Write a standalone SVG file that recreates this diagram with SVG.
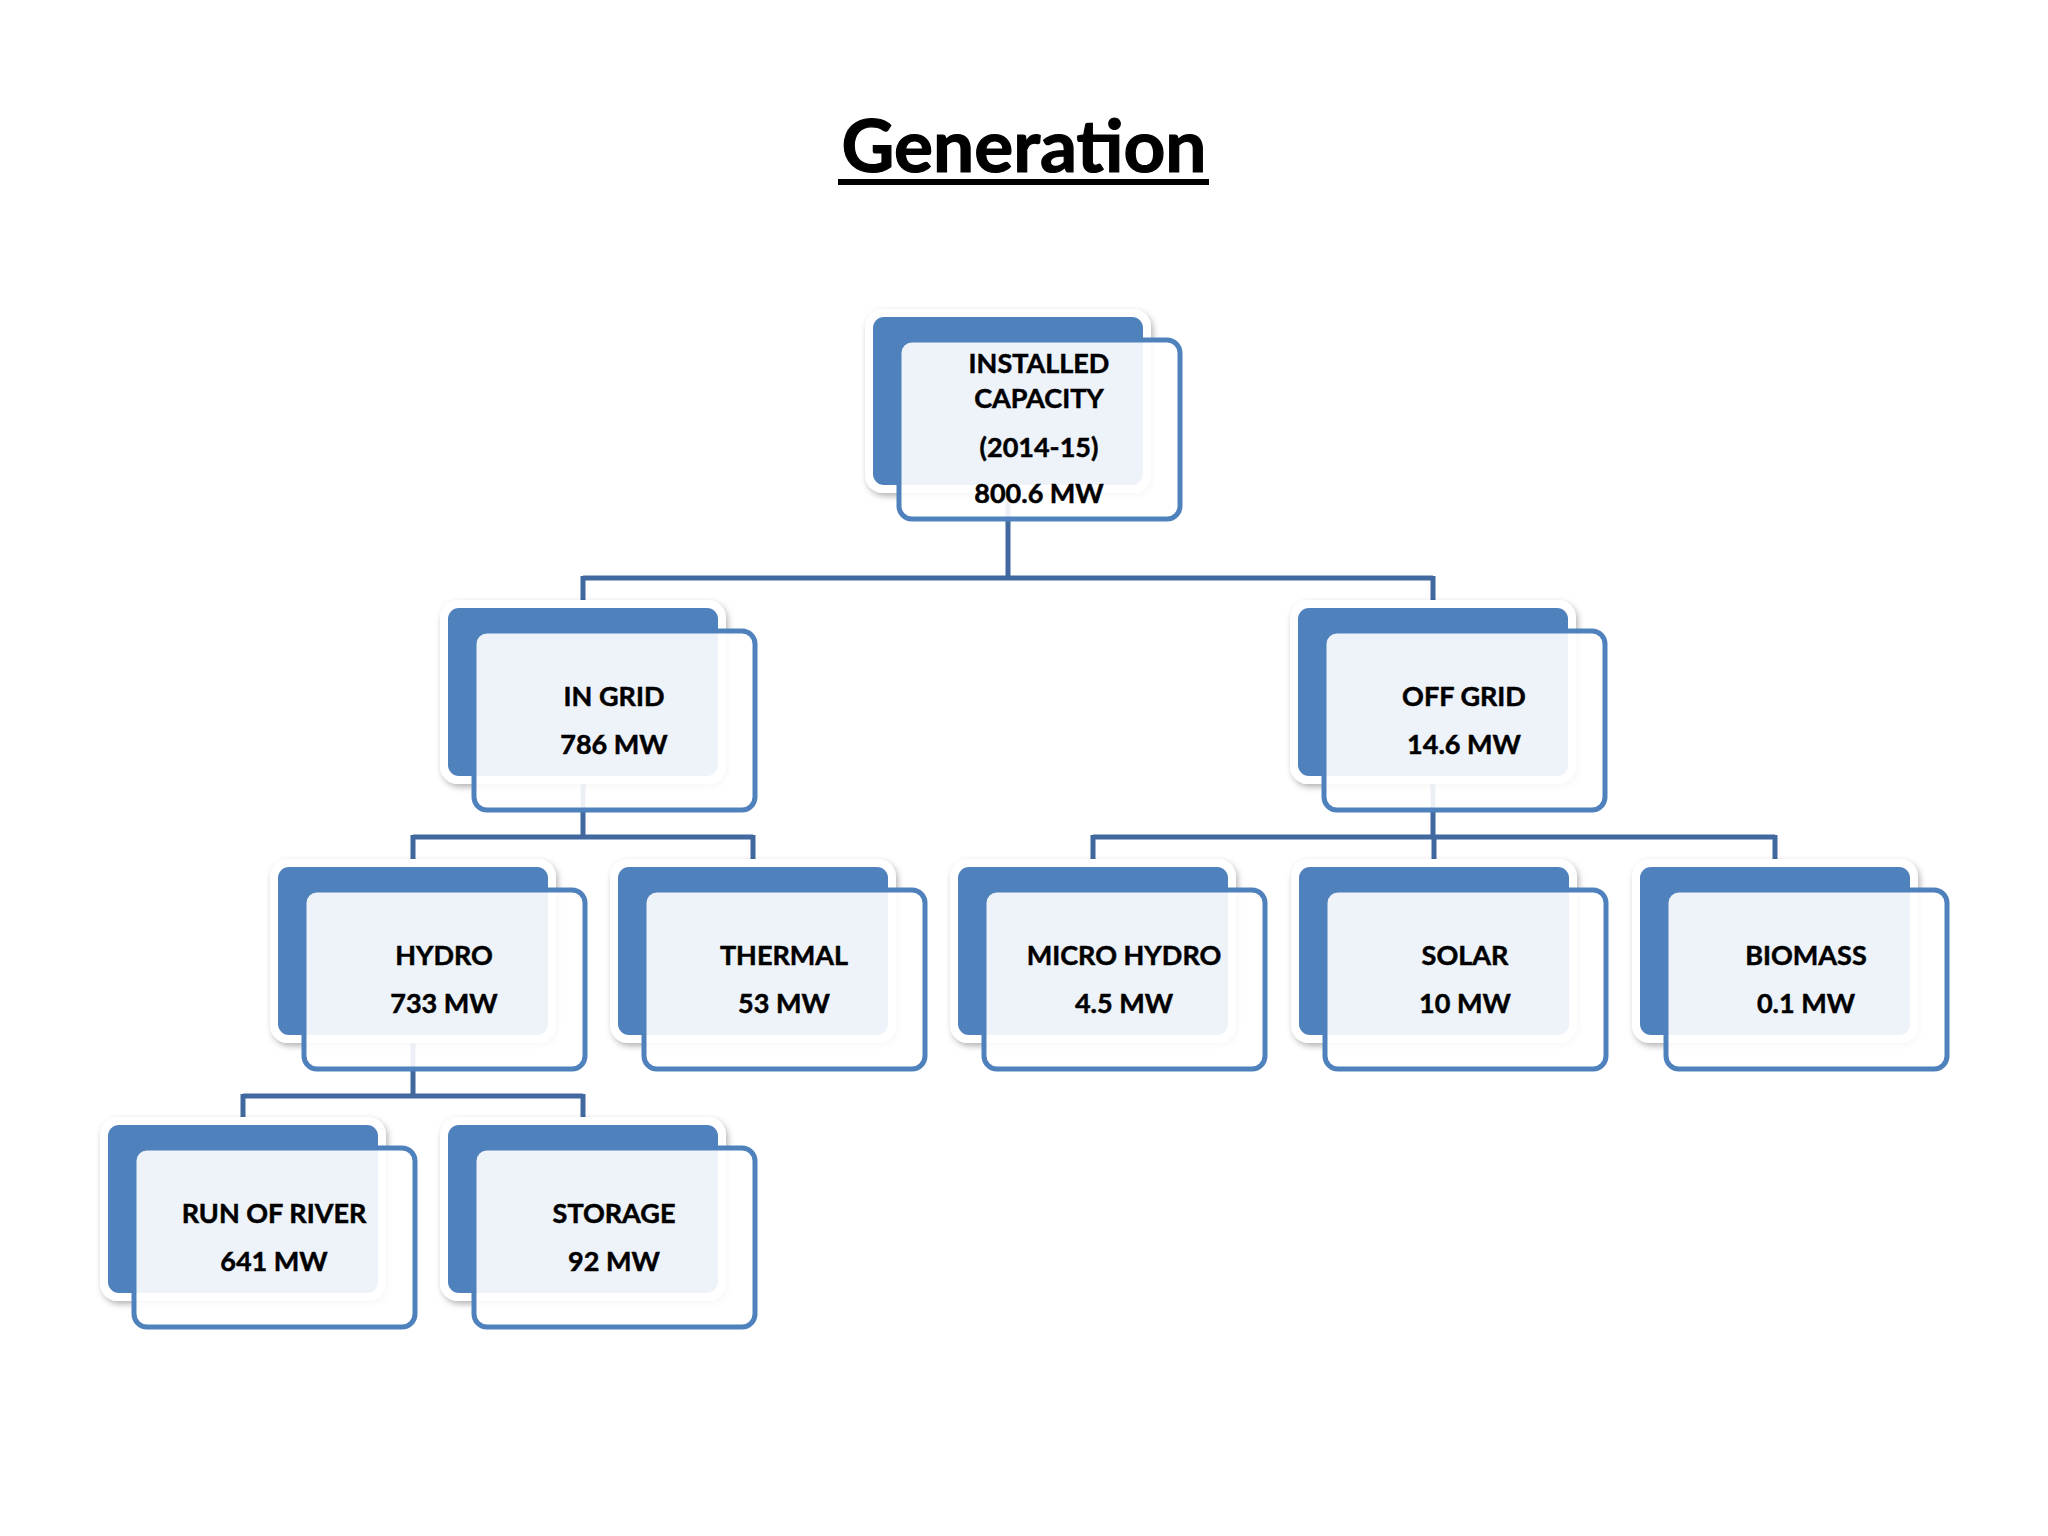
<svg xmlns="http://www.w3.org/2000/svg" width="2048" height="1536" viewBox="0 0 2048 1536">
<style>
.conn{fill:none;stroke:#41699f;stroke-width:5;stroke-linejoin:miter;stroke-linecap:butt}
.halo{fill:#ffffff}
.back{fill:#4f81bd}
.front{fill:#ffffff;fill-opacity:0.9;stroke:#4f81bd;stroke-width:5}
.lbl{font-family:Lato,"Open Sans","Liberation Sans",sans-serif;font-weight:bold;font-size:27px;fill:#000;stroke:#000;stroke-width:0.5;text-anchor:middle}
.title{font-family:Lato,"Open Sans","Liberation Sans",sans-serif;font-weight:bold;font-size:72px;fill:#000;stroke:#000;stroke-width:1.2;text-anchor:middle}
</style>
<defs>
<filter id="sh" x="-10%" y="-10%" width="125%" height="130%">
<feDropShadow dx="2" dy="3" stdDeviation="3" flood-color="#000" flood-opacity="0.3"/>
</filter>
<g id="card">
<rect class="halo" x="-8" y="-8" width="286" height="184" rx="18" filter="url(#sh)"/>
<rect class="back" x="0" y="0" width="270" height="168" rx="11"/>
<rect class="front" x="26" y="23" width="281" height="179" rx="13"/>
</g>
</defs>
<rect width="2048" height="1536" fill="#ffffff"/>
<g id="title">
<text class="title" x="1024" y="172" textLength="365" lengthAdjust="spacingAndGlyphs">Generation</text>
<rect x="838" y="179" width="371" height="6" fill="#000"/>
</g>
<g id="connectors">
<path class="conn" d="M1008 400 V578 M583 578 H1433 M583 576 V640 M1433 576 V640"/>
<path class="conn" d="M583 690 V837 M413 837 H753 M413 835 V900 M753 835 V900"/>
<path class="conn" d="M1433 690 V837 M1093 837 H1775 M1093 835 V900 M1434 835 V900 M1775 835 V900"/>
<path class="conn" d="M413 950 V1096 M243 1096 H583 M243 1094 V1160 M583 1094 V1160"/>
</g>
<g id="n-installed" transform="translate(873,317)">
<use href="#card"/>
<text class="lbl" x="166" y="56">INSTALLED</text>
<text class="lbl" x="166" y="91">CAPACITY</text>
<text class="lbl" x="166" y="140">(2014-15)</text>
<text class="lbl" x="166" y="186">800.6 MW</text>
</g>
<g id="n-ingrid" transform="translate(448,608)">
<use href="#card"/>
<text class="lbl" x="166" y="98">IN GRID</text>
<text class="lbl" x="166" y="146">786 MW</text>
</g>
<g id="n-offgrid" transform="translate(1298,608)">
<use href="#card"/>
<text class="lbl" x="166" y="98">OFF GRID</text>
<text class="lbl" x="166" y="146">14.6 MW</text>
</g>
<g id="n-hydro" transform="translate(278,867)">
<use href="#card"/>
<text class="lbl" x="166" y="98">HYDRO</text>
<text class="lbl" x="166" y="146">733 MW</text>
</g>
<g id="n-thermal" transform="translate(618,867)">
<use href="#card"/>
<text class="lbl" x="166" y="98">THERMAL</text>
<text class="lbl" x="166" y="146">53 MW</text>
</g>
<g id="n-microhydro" transform="translate(958,867)">
<use href="#card"/>
<text class="lbl" x="166" y="98">MICRO HYDRO</text>
<text class="lbl" x="166" y="146">4.5 MW</text>
</g>
<g id="n-solar" transform="translate(1299,867)">
<use href="#card"/>
<text class="lbl" x="166" y="98">SOLAR</text>
<text class="lbl" x="166" y="146">10 MW</text>
</g>
<g id="n-biomass" transform="translate(1640,867)">
<use href="#card"/>
<text class="lbl" x="166" y="98">BIOMASS</text>
<text class="lbl" x="166" y="146">0.1 MW</text>
</g>
<g id="n-runofriver" transform="translate(108,1125)">
<use href="#card"/>
<text class="lbl" x="166" y="98">RUN OF RIVER</text>
<text class="lbl" x="166" y="146">641 MW</text>
</g>
<g id="n-storage" transform="translate(448,1125)">
<use href="#card"/>
<text class="lbl" x="166" y="98">STORAGE</text>
<text class="lbl" x="166" y="146">92 MW</text>
</g>
</svg>
